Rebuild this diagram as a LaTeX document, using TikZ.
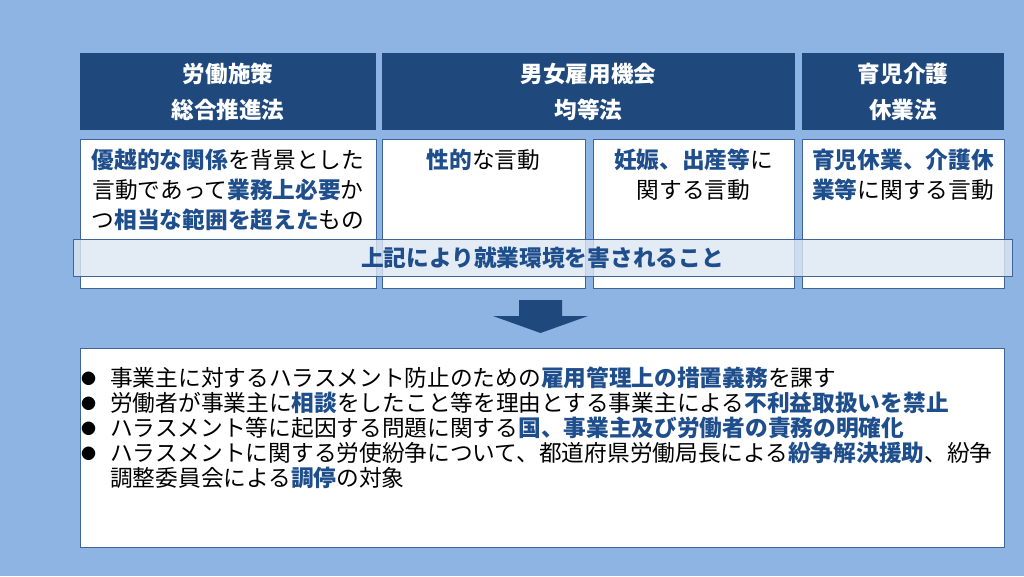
\documentclass[tikz,border=0pt]{standalone}
\usepackage{fontspec}
\setmainfont{Noto Sans CJK JP}
\usetikzlibrary{positioning}

\definecolor{bgblue}{RGB}{141,180,227}
\definecolor{hdblue}{RGB}{31,73,125}
\definecolor{kwblue}{RGB}{31,78,140}
\definecolor{edgeblue}{RGB}{65,100,150}
\definecolor{bandfill}{RGB}{221,231,242}

\newcommand{\kw}[1]{{\bfseries\color{kwblue}#1}}
\newcommand{\bulletmark}{\makebox[29pt][l]{\raisebox{2.5pt}{\fontsize{15}{15}\selectfont ●}}}

\begin{document}
\begin{tikzpicture}[x=1pt, y=-1pt,
    law/.style={fill=hdblue, text=white, minimum height=77pt, inner sep=0pt,
        align=center, font=\fontsize{22.6}{36}\selectfont\bfseries},
    case/.style={draw=edgeblue, line width=0.8pt, fill=white, minimum height=149pt, inner sep=0pt},
    txt/.style={inner sep=0pt, align=center, font=\fontsize{22.7}{30}\selectfont}]

    \fill[bgblue] (0,0) rectangle (1024,576);
    \useasboundingbox (0,0) rectangle (1024,576);

    % the three laws
    \node[law, minimum width=296pt] (lawA) at (228,91.5) {労働施策\\総合推進法};
    \node[law, minimum width=413pt] (lawB) at (588.5,91.5) {男女雇用機会\\均等法};
    \node[law, minimum width=202pt] (lawC) at (903,91.5) {育児介護\\休業法};

    \node[case, minimum width=296pt] (caseA) at (228,213.5) {};
    \node[case, minimum width=203pt] (caseB) at (483.5,213.5) {};
    \node[case, minimum width=201pt] (caseC) at (693.5,213.5) {};
    \node[case, minimum width=202pt] (caseD) at (903,213.5) {};

    \node[txt, below=10.5pt of caseA.north] (caseAtxt)
        {\kw{優越的な関係}を背景とした\\言動であって\kw{業務上必要}か\\つ\kw{相当な範囲を超えた}もの};
    \node[txt, below=10.5pt of caseB.north] (caseBtxt) {\kw{性的}な言動};
    \node[txt, below=10.5pt of caseC.north] (caseCtxt) {\kw{妊娠、出産等}に\\関する言動};
    \node[txt, below=10.5pt of caseD.north] (caseDtxt) {\kw{育児休業、介護休}\\\kw{業等}に関する言動};

    \node[draw=edgeblue, line width=0.8pt, fill=bandfill, fill opacity=0.8, text opacity=1,
        minimum width=939pt, minimum height=37pt, inner sep=0pt,
        font=\fontsize{22.7}{25}\selectfont\bfseries, text=kwblue]
        (band) at (542.5,257.5) {上記により就業環境を害されること};

    % block arrow
    \fill[hdblue] (519,300) -- (562,300) -- (562,316) -- (588,316) -- (540.5,333)
        -- (493,316) -- (519,316) -- cycle;

    \node[draw=edgeblue, line width=0.8pt, fill=white, minimum width=924pt,
        minimum height=199pt] (duty) at (542,447.5) {};
    \node[txt, align=left, font=\fontsize{22.7}{25}\selectfont, anchor=north west]
        (dutytxt) at (81,367) {%
        \bulletmark 事業主に対するハラスメント防止のための\kw{雇用管理上の措置義務}を課す\\
        \bulletmark 労働者が事業主に\kw{相談}をしたこと等を理由とする事業主による\kw{不利益取扱いを禁止}\\
        \bulletmark ハラスメント等に起因する問題に関する\kw{国、事業主及び労働者の責務の明確化}\\
        \bulletmark ハラスメントに関する労使紛争について、都道府県労働局長による\kw{紛争解決援助}、紛争\\
        \hspace*{29pt}調整委員会による\kw{調停}の対象};
\end{tikzpicture}
\end{document}
